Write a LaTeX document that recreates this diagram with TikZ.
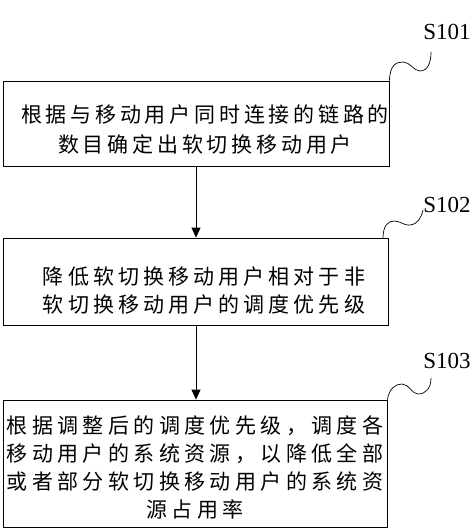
\documentclass[tikz,border=0pt]{standalone}
\usepackage{fontspec}
\setmainfont{Liberation Serif}
\newfontfamily\cjkA[LetterSpace=18]{Noto Sans CJK SC}
\newfontfamily\cjkB[LetterSpace=19.5]{Noto Sans CJK SC}
\newfontfamily\cjkC[LetterSpace=21]{Noto Sans CJK SC}
\usetikzlibrary{arrows.meta}
\tikzset{
  stepbox/.style={draw=black, line width=0.8pt, rectangle, inner sep=0pt},
  steptext/.style={align=center, inner sep=0pt},
  steplabel/.style={font=\fontsize{23}{26}\selectfont, anchor=base, inner sep=0pt},
  flow/.style={draw=black, line width=0.8pt, -{Triangle[length=10pt,width=9pt]}},
  wave/.style={draw=black, line width=0.7pt}
}
\begin{document}
\begin{tikzpicture}[x=1pt,y=-1pt]
\useasboundingbox (0,0) rectangle (474,529);
\fill[white] (0,0) rectangle (474,529);
% boxes
\node[stepbox, minimum width=386pt, minimum height=85pt] (b1) at (196,123.5) {};
\node[stepbox, minimum width=385pt, minimum height=87pt] (b2) at (196,281.5) {};
\node[stepbox, minimum width=384pt, minimum height=127pt] (b3) at (195,463.5) {};
% texts
\node[steptext, font=\cjkA\fontsize{21}{30}\selectfont] (t1) at (205,130)
  {根据与移动用户同时连接的链路的\\数目确定出软切换移动用户};
\node[steptext, font=\cjkB\fontsize{21}{28}\selectfont] (t2) at (204,291)
  {降低软切换移动用户相对于非\\软切换移动用户的调度优先级};
\node[steptext, font=\cjkC\fontsize{21}{28.3}\selectfont] (t3) at (195,467.5)
  {根据调整后的调度优先级，调度各\\移动用户的系统资源，以降低全部\\或者部分软切换移动用户的系统资\\源占用率};
% labels
\node[steplabel] (l1) at (447,40) {S101};
\node[steplabel] (l2) at (447,212) {S102};
\node[steplabel] (l3) at (447,368) {S103};
\coordinate (e1) at (431,52);
\coordinate (e2) at (423,210);
\coordinate (e3) at (431,378);
\coordinate (s2) at (383,238);
% arrows
\draw[flow] (b1.south) -- (b2.north);
\draw[flow] (b2.south) -- (b2.south |- b3.north);
% waves
\draw[wave] (b1.north east) .. controls (390,65) and (396,62) .. (403,62)
  .. controls (410,62) and (414,71) .. (420,71)
  .. controls (428,71) and (431,62) .. (e1);
\draw[wave] (s2) .. controls (383,226) and (388,221) .. (394,221)
  .. controls (401,221) and (404,226) .. (410,225)
  .. controls (418,224) and (421,218) .. (e2);
\draw[wave] (b3.north east) .. controls (389,389) and (395,384) .. (402,384)
  .. controls (409,384) and (412,394) .. (418,394)
  .. controls (426,394) and (431,388) .. (e3);
\end{tikzpicture}
\end{document}
